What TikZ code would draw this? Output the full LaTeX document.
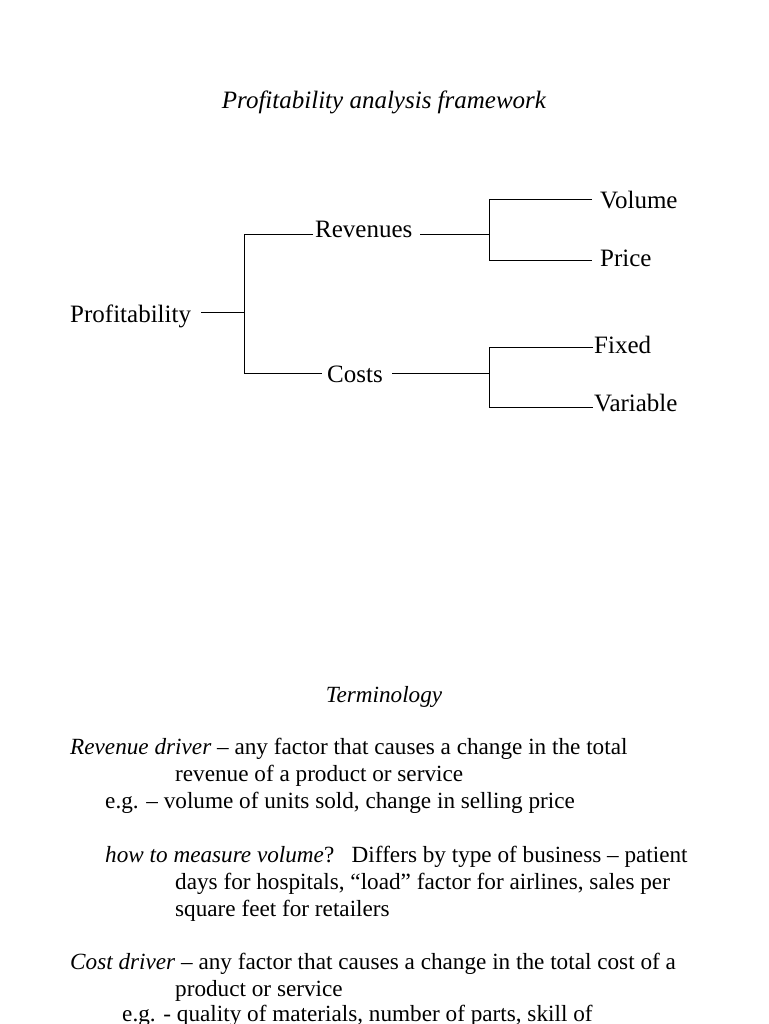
\documentclass[tikz,border=0pt]{standalone}
\usepackage{fontspec}
\setmainfont{Liberation Serif}
\begin{document}
\begin{tikzpicture}[x=1pt,y=-1pt,
  lbl/.style={anchor=west,inner sep=0pt,font=\fontsize{25}{29}\selectfont},
  txt/.style={anchor=base west,inner sep=0pt,font=\fontsize{23.2}{27}\selectfont},
  ln/.style={line width=0.8pt}]
\useasboundingbox (0,0) rectangle (768,1024);
\node[inner sep=0pt,font=\fontsize{25}{29}\selectfont\itshape] (title) at (384,102) {Profitability analysis framework};
% tree
\node[lbl] (prof) at (70,316) {Profitability};
\node[lbl] (rev) at (315,229) {Revenues};
\node[lbl] (cost) at (327,374) {Costs};
\node[lbl] (vol) at (600,200) {Volume};
\node[lbl] (price) at (600,258) {Price};
\node[lbl] (fix) at (594,345) {Fixed};
\node[lbl] (var) at (594,403) {Variable};
\coordinate (p0) at (201,312);
\coordinate (j1) at (244,312);
\coordinate (j1a) at (244,234);
\coordinate (j1b) at (244,373);
\coordinate (r1) at (313,234);
\coordinate (c1) at (322,373);
\coordinate (r0) at (420,234);
\coordinate (c0) at (392,373);
\coordinate (j2) at (489,234);
\coordinate (j2a) at (489,199);
\coordinate (j2b) at (489,260);
\coordinate (v1) at (592,199);
\coordinate (pr1) at (592,260);
\coordinate (j3) at (489,373);
\coordinate (j3a) at (489,347);
\coordinate (j3b) at (489,407);
\coordinate (f1) at (593,347);
\coordinate (va1) at (593,407);
\draw[ln] (p0) -- (j1);
\draw[ln] (r1) -- (j1a) -- (j1b) -- (c1);
\draw[ln] (r0) -- (j2);
\draw[ln] (v1) -- (j2a) -- (j2b) -- (pr1);
\draw[ln] (c0) -- (j3);
\draw[ln] (f1) -- (j3a) -- (j3b) -- (va1);
% terminology
\node[inner sep=0pt,anchor=base,font=\fontsize{23.2}{27}\selectfont\itshape] (term) at (384,702) {Terminology};
\node[txt] (t1) at (70,754) {\textit{Revenue driver} -- any factor that causes a change in the total};
\node[txt] (t2) at (175,781) {revenue of a product or service};
\node[txt] (t3) at (105,808) {e.g. -- volume of units sold, change in selling price};
\node[txt] (t4) at (105,862) {\textit{how to measure volume}?\ \ \ Differs by type of business -- patient};
\node[txt] (t5) at (175,889) {days for hospitals, ``load'' factor for airlines, sales per};
\node[txt] (t6) at (175,916) {square feet for retailers};
\node[txt] (t7) at (70,969) {\textit{Cost driver} -- any factor that causes a change in the total cost of a};
\node[txt] (t8) at (175,996) {product or service};
\node[txt] (t9) at (122,1021) {e.g. - quality of materials, number of parts, skill of};
\end{tikzpicture}
\end{document}
